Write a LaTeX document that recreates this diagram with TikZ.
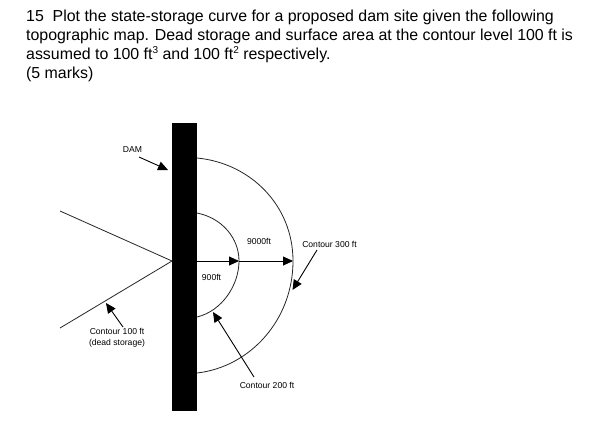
\documentclass[tikz,border=0pt]{standalone}
\usepackage{fontspec}
\setmainfont{Liberation Sans}
\usetikzlibrary{arrows.meta}
\newcommand{\upnum}[1]{\raisebox{5.5pt}{\fontsize{10}{10}\selectfont #1}}
\tikzset{
  headline/.style={anchor=base west,inner sep=0pt,font=\fontsize{15.9}{18}\selectfont},
  smalllabel/.style={inner sep=0pt,align=center,font=\fontsize{8.6}{11}\selectfont},
  contour/.style={draw=black!85,line width=0.8pt},
  pointer/.style={draw=black,line width=0.9pt,-{Triangle[length=10pt,width=9pt]}},
  damwall/.style={fill=black,draw=none,minimum width=25pt,minimum height=288pt,inner sep=0pt}
}
\begin{document}
\begin{tikzpicture}[x=1pt,y=-1pt]
\useasboundingbox (0,0) rectangle (600,440);
\fill[white] (0,0) rectangle (600,440);
\node[headline] (l1) at (26,21) {15\ \ Plot the state-storage curve for a proposed dam site given the following};
\node[headline] (l2) at (26,40) {topographic map. Dead storage and surface area at the contour level 100 ft is};
\node[headline] (l3) at (26,59) {assumed to 100 ft\upnum{3} and 100 ft\upnum{2} respectively.};
\node[headline] (l4) at (26,78) {(5 marks)};
% dam
\node[damwall] (dam) at (184.5,267) {};
% contour 100
\coordinate (apex) at (172,261);
\coordinate (upper) at (60,211);
\coordinate (lower) at (60,328);
\draw[contour] (upper) -- (apex) -- (lower);
% contours 200, 300
\coordinate (in1) at (197,213);
\coordinate (in2) at (239,261);
\coordinate (in3) at (197,317);
\coordinate (out1) at (197,158);
\coordinate (out2) at (293,261);
\coordinate (out3) at (197,373);
\draw[contour] (in1) .. controls (222,218) and (239,238) .. (in2) .. controls (239,285) and (222,311) .. (in3);
\draw[contour] (out1) .. controls (250,163) and (293,205) .. (out2) .. controls (293,320) and (250,367) .. (out3);
% distance arrows
\coordinate (axis) at (197,261);
\draw[pointer] (axis) -- (in2);
\draw[pointer] (in2) -- (out2);
% labels
\node[smalllabel] (damlabel) at (132.5,149.5) {DAM};
\node[smalllabel] (d9000) at (259,241.5) {9000ft};
\node[smalllabel] (d900) at (211.5,277) {900ft};
\node[smalllabel] (c300) at (329.5,244) {Contour 300 ft};
\node[smalllabel] (c200) at (267,385) {Contour 200 ft};
\node[smalllabel] (c100) at (117,338) {Contour 100 ft\\(dead storage)};
% pointers
\coordinate (damtip) at (168,170);
\coordinate (tip300) at (292.5,290);
\coordinate (tip200) at (213,312);
\coordinate (tip100) at (106,303);
\coordinate (from100) at (123,327);
\draw[pointer] (139,157) -- (damtip);
\draw[pointer] (317,250) -- (tip300);
\draw[pointer] (254,377) -- (tip200);
\draw[pointer] (from100) -- (tip100);
\end{tikzpicture}
\end{document}
